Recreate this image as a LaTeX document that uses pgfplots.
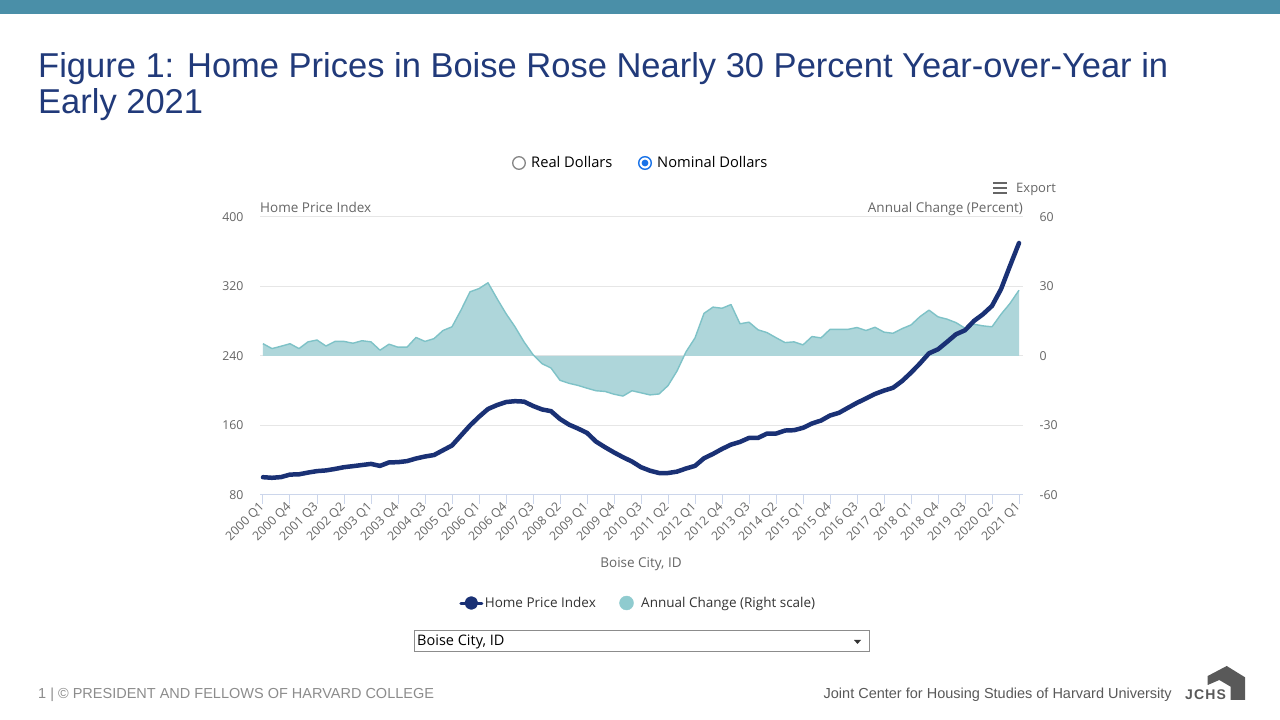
\documentclass[border=0pt]{standalone}
\usepackage{fontspec}
\setmainfont{Open Sans}
\newfontfamily\arialfont{Liberation Sans}
\usepackage{pgfplots}
\pgfplotsset{compat=1.18}
\usepackage{pgfplotstable}

\definecolor{topbar}{RGB}{74,143,168}
\definecolor{titleblue}{RGB}{33,58,122}
\definecolor{navyline}{RGB}{26,49,117}
\definecolor{tealfill}{RGB}{174,214,218}
\definecolor{tealline}{RGB}{126,194,199}
\definecolor{tealkey}{RGB}{143,203,207}
\definecolor{gridgray}{RGB}{230,230,230}
\definecolor{axisblue}{RGB}{204,214,235}
\definecolor{labelgray}{RGB}{102,102,102}
\definecolor{darktext}{RGB}{51,51,51}
\definecolor{radioblue}{RGB}{26,115,232}
\definecolor{footlight}{RGB}{140,140,140}
\definecolor{footdark}{RGB}{89,89,89}

% Boise City, ID: quarter index (0 = 2000 Q1), home price index, annual change (%)
\pgfplotstableread{
q  hpi    chg
0  100.5   5.3
1  99.8    3.2
2  100.6   4.2
3  103.5   5.3
4  103.8   3.2
5  105.8   6.1
6  107.5   6.9
7  108.3   4.3
8  110.0   6.3
9  112.0   6.3
10 113.2   5.5
11 114.5   6.6
12 115.8   6.1
13 113.5   2.5
14 117.5   5.1
15 117.8   3.8
16 119.0   3.8
17 122.0   8.0
18 124.3   6.3
19 126.0   7.5
20 131.5  11.0
21 137.0  12.6
22 148.5  19.8
23 160.0  27.7
24 170.0  29.1
25 179.0  31.6
26 183.5  24.8
27 187.0  18.3
28 188.0  12.6
29 187.5   6.1
30 182.5   0.6
31 178.5  -3.3
32 176.5  -5.2
33 167.5 -10.5
34 161.0 -11.8
35 156.5 -12.7
36 151.5 -13.9
37 141.5 -15.0
38 135.0 -15.3
39 129.0 -16.5
40 123.5 -17.3
41 118.5 -15.0
42 112.0 -15.9
43 108.0 -16.8
44 105.3 -16.4
45 105.3 -12.8
46 106.9  -6.5
47 110.5   1.8
48 113.5   7.8
49 122.3  18.4
50 127.3  21.1
51 133.0  20.6
52 138.0  22.2
53 141.1  13.9
54 145.7  14.6
55 145.7  11.3
56 150.7  10.1
57 150.7   7.9
58 154.2   5.8
59 154.6   6.1
60 157.3   4.8
61 162.3   8.4
62 165.7   7.8
63 171.5  11.5
64 174.6  11.5
65 180.4  11.5
66 186.1  12.3
67 191.1  11.0
68 196.3  12.4
69 200.2  10.3
70 203.4   9.8
71 211.1  11.8
72 220.8  13.4
73 231.5  17.0
74 243.1  19.8
75 247.7  16.9
76 256.2  15.9
77 265.0  14.4
78 269.6  12.0
79 280.4  13.7
80 288.1  13.0
81 297.7  12.6
82 316.9  18.0
83 343.8  22.7
84 370.0  28.4
}\boise

\begin{document}
\begin{tikzpicture}[x=1pt,y=1pt]
\fill[white] (0,0) rectangle (1280,720);
\fill[topbar] (0,706) rectangle (1280,720);
\coordinate (plotSW) at (260,225);

% slide title
\node[anchor=base west, inner sep=0pt, text=titleblue,
      font=\arialfont\fontsize{34.5}{40}\selectfont] at (38,642)
  {Figure 1: Home Prices in Boise Rose Nearly 30 Percent Year-over-Year in};
\node[anchor=base west, inner sep=0pt, text=titleblue,
      font=\arialfont\fontsize{34.5}{40}\selectfont] at (38,606)
  {Early 2021};

% real / nominal switch
\draw[labelgray!80, line width=1.3pt] (519,557) circle (6.3);
\node[anchor=base west, inner sep=0pt, text=black,
      font=\fontsize{14.7}{17}\selectfont] at (531,552) {Real Dollars};
\draw[radioblue, line width=1.4pt] (645,557) circle (6.3);
\fill[radioblue] (645,557) circle (3.4);
\node[anchor=base west, inner sep=0pt, text=black,
      font=\fontsize{14.7}{17}\selectfont] at (657,552) {Nominal Dollars};

% export menu
\foreach \yy in {527,532,537}
  \draw[labelgray, line width=1.3pt] (993,\yy) -- (1007,\yy);
\node[anchor=base west, inner sep=0pt, text=labelgray,
      font=\fontsize{13}{15}\selectfont] at (1016,527) {Export};

% axis headings
\node[anchor=base west, inner sep=0pt, text=labelgray,
      font=\fontsize{13.5}{16}\selectfont] at (260,507.5) {Home Price Index};
\node[anchor=base east, inner sep=0pt, text=labelgray,
      font=\fontsize{13.5}{16}\selectfont] at (1023,507.5) {Annual Change (Percent)};

% right scale: annual change, gridlines and x axis
\begin{axis}[
  at={(plotSW)}, anchor=south west, scale only axis,
  width=763pt, height=278pt,
  xmin=-0.333, xmax=84.444, ymin=-60, ymax=60,
  axis x line*=bottom, axis y line*=right,
  x axis line style={draw=axisblue, line width=1pt, -},
  y axis line style={draw=none},
  xtick={0,3,...,84},
  xticklabels={2000 Q1,2000 Q4,2001 Q3,2002 Q2,2003 Q1,2003 Q4,2004 Q3,2005 Q2,
    2006 Q1,2006 Q4,2007 Q3,2008 Q2,2009 Q1,2009 Q4,2010 Q3,2011 Q2,2012 Q1,
    2012 Q4,2013 Q3,2014 Q2,2015 Q1,2015 Q4,2016 Q3,2017 Q2,2018 Q1,2018 Q4,
    2019 Q3,2020 Q2,2021 Q1},
  xtick align=outside, ytick align=inside,
  major tick length=9pt,
  x tick style={draw=axisblue, line width=1pt},
  y tick style={draw=none},
  ytick={-60,-30,0,30,60},
  yticklabels={-60,-30,0,30,60},
  ymajorgrids, major grid style={draw=gridgray, line width=1pt},
  yticklabel style={font=\fontsize{12.3}{14}\selectfont, text=labelgray,
    anchor=west, xshift=13pt},
  xticklabel style={font=\fontsize{12.3}{14}\selectfont, text=labelgray,
    rotate=45, anchor=east, inner sep=1pt},
]
% shaded area between the annual change and the zero line
\addplot[fill=tealfill, draw=none] table[x=q, y=chg] {\boise}
  -- (axis cs:84,0) -- (axis cs:0,0) -- cycle;
\addplot[tealline, line width=1.4pt, line join=round] table[x=q, y=chg] {\boise};
\end{axis}

% left scale: home price index
\begin{axis}[
  at={(plotSW)}, anchor=south west, scale only axis,
  width=763pt, height=278pt,
  xmin=-0.333, xmax=84.444, ymin=80, ymax=400,
  axis x line=none, axis y line*=left,
  y axis line style={draw=none},
  xtick=\empty,
  ytick={80,160,240,320,400},
  yticklabels={80,160,240,320,400},
  ytick align=inside, y tick style={draw=none},
  yticklabel style={font=\fontsize{12.3}{14}\selectfont, text=labelgray,
    anchor=east, xshift=-13pt},
  legend columns=2,
  legend style={at={(0.4954,-0.3885)}, anchor=center, draw=none, fill=none,
    font=\fontsize{13.5}{16}\selectfont, text=darktext, inner sep=0pt,
    nodes={inner sep=1.5pt},
    /tikz/every even column/.append style={column sep=22pt}},
  legend cell align=left,
]
\addplot[navyline, line width=4.5pt, line join=round, line cap=round,
  legend image code/.code={
    \draw[navyline, line width=3pt, line cap=round] (1.5pt,0pt) -- (22.5pt,0pt);
    \fill[navyline] (12pt,0pt) circle (4.5pt);}]
  table[x=q, y=hpi] {\boise};
\addlegendentry{Home Price Index}
\addlegendimage{legend image code/.code={
    \fill[tealkey] (7pt,0pt) circle (7pt);
    \path (20pt,0pt);}}
\addlegendentry{Annual Change (Right scale)}
\end{axis}

% region label under the x axis
\node[text=labelgray, font=\fontsize{13.5}{16}\selectfont] at (641,156) {Boise City, ID};

% metro selector
\draw[footlight, line width=1pt, fill=white] (414,89) rectangle (869,68);
\node[anchor=west, inner sep=0pt, text=black,
      font=\fontsize{14.5}{17}\selectfont] at (417,78.5) {Boise City, ID};
\fill[darktext] (854,80) -- (861,80) -- (857.5,76) -- cycle;

% footer
\node[anchor=base west, inner sep=0pt, text=footlight,
      font=\arialfont\fontsize{14.5}{17}\selectfont] at (38,21)
  {1 | \textcopyright{} PRESIDENT AND FELLOWS OF HARVARD  COLLEGE};
\node[anchor=base east, inner sep=0pt, text=footdark,
      font=\arialfont\fontsize{14.5}{17}\selectfont] at (1172,21)
  {Joint Center for Housing Studies of Harvard University};
\fill[footdark] (1207.7,44) -- (1226.7,54) -- (1245,42.7) -- (1245,20)
  -- (1230.7,20) -- (1230.7,33.3) -- (1219.3,40) -- (1207.7,35) -- cycle;
\node[anchor=base west, inner sep=0pt, text=footdark,
      font=\arialfont\bfseries\fontsize{14}{16}\selectfont\addfontfeature{LetterSpace=8}]
  at (1185,20) {JCHS};
\end{tikzpicture}
\end{document}
